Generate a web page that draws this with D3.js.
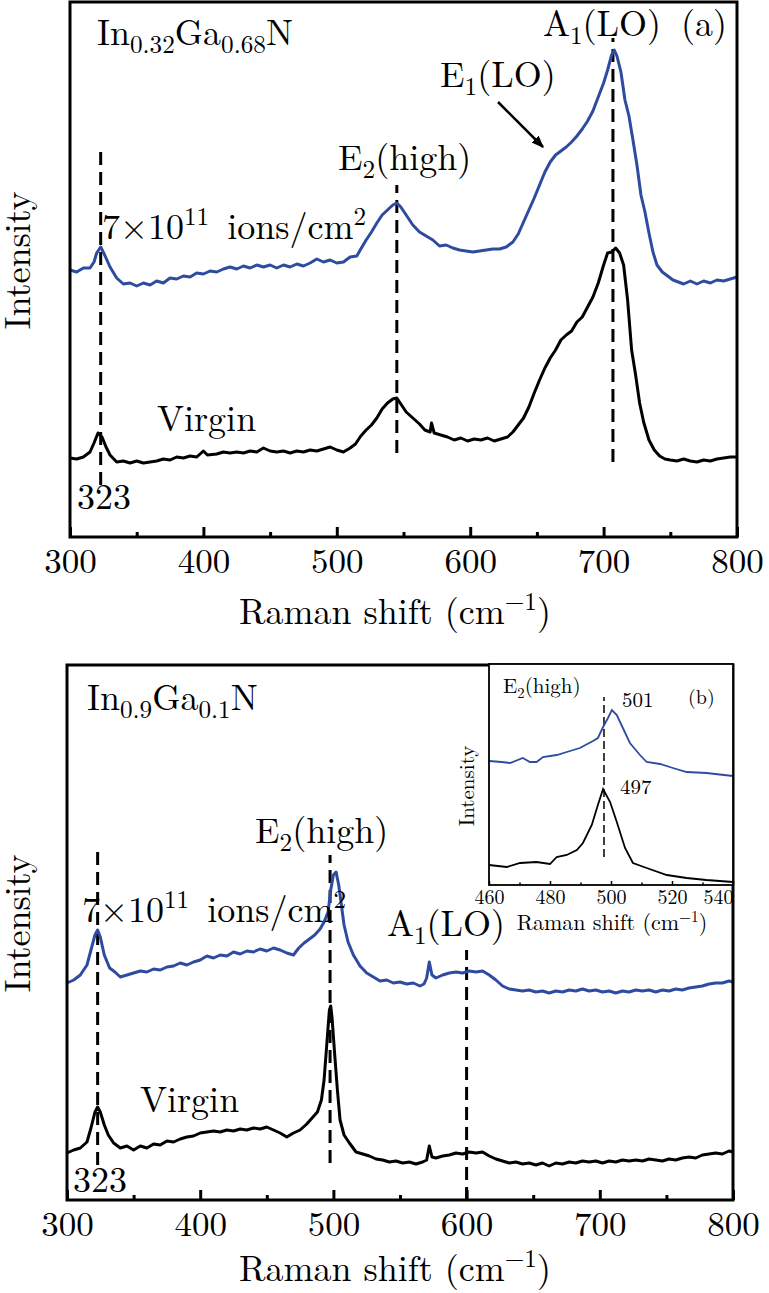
<!DOCTYPE html>
<html>
<head>
<meta charset="utf-8">
<script src="https://cdn.jsdelivr.net/npm/d3@7"></script>
<style>
  body { margin: 0; background: #fff; }
</style>
</head>
<body>
<div id="chart"></div>
<script>
// Raman spectra, [shift cm^-1, intensity a.u.]
const ionTop = [[300,267],[305,265],[310,269],[315,269],[318,275],[320,284],[323,290],[326,282],[330,270],[335,259],[340,253],[345,254],[350,251],[355,254],[360,252],[365,256],[370,254],[375,259],[380,258],[385,261],[390,260],[395,264],[400,263],[405,266],[410,265],[415,268],[420,270],[425,268],[430,271],[435,269],[440,272],[445,270],[450,272],[455,269],[460,272],[465,270],[470,273],[475,271],[480,274],[485,278],[490,275],[495,277],[500,274],[505,275],[510,280],[515,281],[518,288],[522,297],[526,305],[530,314],[534,322],[538,327],[542,332],[545,334],[548,330],[552,322],[557,312],[562,305],[567,301],[572,297],[577,291],[582,292],[587,289],[592,287],[597,286],[602,285],[607,286],[612,287],[617,288],[622,288],[627,290],[632,295],[636,303],[640,315],[644,327],[648,339],[652,352],[656,365],[660,375],[664,382],[668,386],[672,390],[676,395],[680,401],[684,408],[688,416],[692,426],[696,440],[700,454],[703,467],[706,482],[708,487],[710,481],[713,465],[716,437],[719,421],[722,397],[725,372],[728,342],[731,325],[734,304],[737,285],[740,272],[744,265],[748,261],[752,257],[756,255],[760,253],[765,256],[770,253],[775,256],[780,254],[785,257],[790,256],[795,258],[800,260]];

const virginTop = [[300,79],[305,78],[310,80],[315,85],[318,94],[321,104],[324,100],[327,90],[330,82],[335,75],[340,76],[345,74],[350,76],[355,74],[360,75],[365,76],[370,78],[375,77],[380,80],[385,79],[390,81],[395,80],[400,86],[403,82],[410,83],[415,85],[420,84],[425,85],[430,84],[435,86],[440,85],[445,89],[450,86],[455,85],[460,86],[465,84],[470,86],[475,85],[480,87],[485,86],[490,88],[495,90],[500,87],[505,85],[510,89],[514,93],[518,101],[522,107],[526,112],[530,119],[534,128],[538,134],[542,138],[545,139],[548,133],[552,125],[557,119],[562,113],[566,107],[570,105],[571,114],[573,104],[578,102],[583,100],[588,97],[593,99],[598,96],[603,98],[608,97],[613,99],[618,96],[623,98],[628,100],[632,105],[636,112],[640,119],[644,130],[648,144],[652,157],[656,169],[660,179],[664,187],[668,197],[672,202],[676,206],[680,215],[684,220],[688,230],[692,240],[696,254],[700,272],[703,284],[706,285],[709,289],[712,284],[715,272],[718,237],[721,187],[724,162],[727,134],[730,115],[734,97],[738,87],[742,81],[746,78],[750,77],[755,76],[760,78],[765,76],[770,75],[775,77],[780,76],[785,78],[790,79],[795,80],[800,80]];

const ionBottom = [[300,217],[305,220],[310,225],[315,235],[318,250],[321,265],[323,270],[325,263],[328,245],[332,232],[336,228],[340,223],[345,225],[350,227],[355,229],[360,228],[365,231],[370,230],[375,233],[380,234],[385,237],[390,235],[395,238],[400,240],[405,244],[410,242],[415,245],[420,244],[425,248],[430,246],[435,249],[440,248],[445,251],[450,249],[455,252],[460,250],[465,247],[470,245],[474,252],[478,257],[482,261],[486,265],[490,271],[493,278],[496,288],[498,310],[500,325],[502,328],[504,315],[506,295],[508,275],[511,258],[515,245],[520,234],[525,227],[530,223],[535,219],[540,220],[545,217],[550,218],[555,216],[560,217],[565,214],[568,216],[570,222],[572,238],[574,225],[577,222],[582,225],[587,227],[592,228],[597,227],[602,229],[607,228],[612,229],[617,225],[622,220],[627,214],[632,211],[637,210],[642,209],[647,210],[652,208],[657,209],[662,207],[667,209],[672,208],[677,210],[682,209],[687,211],[692,209],[697,210],[702,208],[707,209],[712,207],[717,209],[722,208],[727,210],[732,209],[737,210],[742,208],[747,210],[752,209],[757,211],[762,210],[767,212],[772,213],[777,214],[782,216],[787,217],[792,217],[797,219],[800,218]];

const virginBottom = [[300,47],[305,50],[310,52],[315,58],[318,72],[321,88],[323,93],[325,88],[328,75],[331,65],[335,57],[340,52],[345,54],[350,50],[355,54],[360,52],[365,56],[370,55],[375,59],[380,58],[385,61],[390,63],[395,64],[400,67],[405,68],[410,69],[415,68],[420,70],[425,69],[430,71],[435,70],[440,72],[445,71],[450,73],[455,70],[460,67],[465,63],[470,67],[475,70],[480,76],[484,82],[488,88],[491,100],[493,120],[495,155],[497,190],[498,194],[499,182],[501,145],[503,110],[505,80],[508,65],[512,57],[517,48],[522,46],[527,44],[532,41],[537,40],[542,38],[547,39],[552,37],[557,38],[562,36],[567,38],[570,40],[572,54],[574,43],[577,42],[582,44],[587,45],[592,47],[597,46],[602,48],[607,47],[612,48],[617,44],[622,41],[627,39],[632,37],[637,38],[642,36],[647,37],[652,35],[657,37],[662,34],[667,37],[672,36],[677,38],[682,37],[687,39],[692,38],[697,39],[702,37],[707,39],[712,38],[717,40],[722,39],[727,40],[732,39],[737,41],[742,40],[747,39],[752,41],[757,40],[762,42],[767,43],[772,42],[777,45],[782,46],[787,47],[792,46],[797,49],[800,48]];

// inset (b): E2(high) region of In0.9Ga0.1N
const ionInset = [[460,124],[464.2,123],[466.9,122],[471.1,127],[473.4,123],[475.6,123],[477.7,128],[482.2,130],[485.5,133],[489.8,137],[494.1,144],[495.7,147],[497.4,158],[499,167],[500.3,175],[501.9,170],[503.9,157],[506.2,142],[509.5,130],[511.7,123],[516.1,121],[520.3,117],[524.8,113],[531.3,112],[540,109]];
const virginInset = [[460,20],[465.8,18],[470.2,22],[475.6,23],[480,21],[482.2,28],[485.5,30],[488.8,35],[490.8,42],[493.7,60],[495.7,80],[497.4,96],[499.7,83],[501.9,63],[504.6,37],[507.2,22],[511.7,17],[518.3,10],[524.8,7],[531.3,5],[540,3]];

const xTicks = [300, 400, 500, 600, 700, 800];
const xMinor = [350, 450, 550, 650, 750];
const insetTicks = [460, 480, 500, 520, 540];
const insetMinor = [470, 490, 510, 530];

// mode guide lines: [shift, intensity from, intensity to]
const guidesTop = [[323, 52, 392], [545, 84, 352], [707, 75, 499]];
const guidesBottom = [[323, 35, 352], [497.5, 37, 345], [600, 0, 250]];
const guidesInset = [[497.7, 28, 188]];

const blue = "#2e4b9f";
const FONT = "'Latin Modern Roman', 'Liberation Serif', 'Times New Roman'";
const W = 769, H = 1293;

const svg = d3.select("#chart").append("svg")
    .attr("width", W).attr("height", H);

// text with sub/superscripts: parts = [[str, "sub"|"sup"|null], ...]
function rich(g, x, y, parts, size, opts) {
    opts = opts || {};
    const t = g.append("text")
        .attr("x", x).attr("y", y)
        .style("font-family", FONT)
        .style("font-size", size + "px")
        .style("fill", "#000")
        .attr("text-anchor", opts.anchor || "start");
    if (opts.rotate) t.attr("transform", "rotate(-90," + x + "," + y + ")");
    let shift = 0;
    parts.forEach(([s, kind]) => {
        const want = kind === "sub" ? size * 0.22 : kind === "sup" ? -size * 0.38 : 0;
        t.append("tspan")
            .attr("dy", want - shift)
            .style("font-size", kind ? (size * 0.7) + "px" : null)
            .text(s);
        shift = want;
    });
    return t;
}

function panel(p) {
    const g = svg.append("g");
    const x = d3.scaleLinear().domain([300, 800]).range([p.left, p.right]);
    const y = d3.scaleLinear().domain([0, 535]).range([p.bottom, p.top]);
    const line = d3.line().x(d => x(d[0])).y(d => y(d[1]));

    g.selectAll("line.guide").data(p.guides).enter().append("line")
        .attr("x1", d => x(d[0])).attr("x2", d => x(d[0]))
        .attr("y1", d => y(d[1])).attr("y2", d => y(d[2]))
        .attr("stroke", "#000").attr("stroke-width", 3)
        .attr("stroke-dasharray", "13,7");

    g.append("path").datum(p.virgin).attr("d", line)
        .attr("fill", "none").attr("stroke", "#000").attr("stroke-width", 3)
        .attr("stroke-linejoin", "round");
    g.append("path").datum(p.ion).attr("d", line)
        .attr("fill", "none").attr("stroke", blue).attr("stroke-width", 3)
        .attr("stroke-linejoin", "round");

    const ax = g.append("g").attr("transform", "translate(0," + p.bottom + ")")
        .call(d3.axisBottom(x).tickValues(xTicks).tickSize(-10).tickPadding(11));
    ax.select(".domain").remove();
    ax.selectAll("line").attr("stroke-width", 3);
    ax.selectAll("text").style("font-size", "35px").style("font-family", FONT);
    const mx = g.append("g").attr("transform", "translate(0," + p.bottom + ")")
        .call(d3.axisBottom(x).tickValues(xMinor).tickSize(-5).tickFormat(""));
    mx.select(".domain").remove();
    mx.selectAll("line").attr("stroke-width", 3);

    g.append("rect")
        .attr("x", p.left).attr("y", p.top)
        .attr("width", p.right - p.left).attr("height", p.bottom - p.top)
        .attr("fill", "none").attr("stroke", "#000").attr("stroke-width", 3);

    rich(g, 395, p.bottom + p.titleGap,
        [["Raman shift (cm", null], ["\u22121", "sup"], [")", null]], 36,
        {anchor: "middle"});
    rich(g, 30, (p.top + p.bottom) / 2 - 9, [["Intensity", null]], 36,
        {anchor: "middle", rotate: true});
    return {g, x, y};
}

const panelA = panel({left: 70, right: 737, top: 2, bottom: 537, titleGap: 87,
    ion: ionTop, virgin: virginTop, guides: guidesTop});
const panelB = panel({left: 67, right: 733, top: 665, bottom: 1200, titleGap: 81,
    ion: ionBottom, virgin: virginBottom, guides: guidesBottom});

const fs = 36;
// top panel labels
rich(panelA.g, 97, 45, [["In", null], ["0.32", "sub"], ["Ga", null], ["0.68", "sub"], ["N", null]], fs);
rich(panelA.g, 338, 170, [["E", null], ["2", "sub"], ["(high)", null]], fs);
rich(panelA.g, 102, 239, [["7\u00d710", null], ["11", "sup"], ["\u2002ions/cm", null], ["2", "sup"]], fs);
rich(panelA.g, 440, 87, [["E", null], ["1", "sub"], ["(LO)", null]], fs);
rich(panelA.g, 543, 36, [["A", null], ["1", "sub"], ["(LO)", null]], fs);
rich(panelA.g, 727, 36, [["(a)", null]], fs, {anchor: "end"});
rich(panelA.g, 157, 431, [["Virgin", null]], fs);
rich(panelA.g, 77, 509, [["323", null]], fs);

svg.append("defs").append("marker")
    .attr("id", "arrow").attr("viewBox", "0 0 10 10")
    .attr("refX", 9).attr("refY", 5)
    .attr("markerWidth", 5).attr("markerHeight", 5)
    .attr("orient", "auto")
    .append("path").attr("d", "M0,1 L10,5 L0,9 z").attr("fill", "#000");
panelA.g.append("line")
    .attr("x1", 498).attr("y1", 102).attr("x2", 543).attr("y2", 147)
    .attr("stroke", "#000").attr("stroke-width", 2.5)
    .attr("marker-end", "url(#arrow)");

// bottom panel labels
rich(panelB.g, 87, 710, [["In", null], ["0.9", "sub"], ["Ga", null], ["0.1", "sub"], ["N", null]], fs);
rich(panelB.g, 255, 843, [["E", null], ["2", "sub"], ["(high)", null]], fs);
rich(panelB.g, 82, 922, [["7\u00d710", null], ["11", "sup"], ["\u2002ions/cm", null], ["2", "sup"]], fs);
rich(panelB.g, 387, 936, [["A", null], ["1", "sub"], ["(LO)", null]], fs);
rich(panelB.g, 140, 1112, [["Virgin", null]], fs);
rich(panelB.g, 73, 1192, [["323", null]], fs);

// inset
const ins = {left: 489, right: 733, top: 664, bottom: 885};
const gi = svg.append("g");
gi.append("rect").attr("x", ins.left).attr("y", ins.top)
    .attr("width", ins.right - ins.left).attr("height", ins.bottom - ins.top)
    .attr("fill", "#fff");
const xi = d3.scaleLinear().domain([460, 540]).range([ins.left, ins.right]);
const yi = d3.scaleLinear().domain([0, 221]).range([ins.bottom, ins.top]);
const li = d3.line().x(d => xi(d[0])).y(d => yi(d[1]));

gi.selectAll("line.guide").data(guidesInset).enter().append("line")
    .attr("x1", d => xi(d[0])).attr("x2", d => xi(d[0]))
    .attr("y1", d => yi(d[1])).attr("y2", d => yi(d[2]))
    .attr("stroke", "#000").attr("stroke-width", 1.5)
    .attr("stroke-dasharray", "8,4");
gi.append("path").datum(virginInset).attr("d", li)
    .attr("fill", "none").attr("stroke", "#000").attr("stroke-width", 1.8);
gi.append("path").datum(ionInset).attr("d", li)
    .attr("fill", "none").attr("stroke", blue).attr("stroke-width", 1.8);

const axi = gi.append("g").attr("transform", "translate(0," + ins.bottom + ")")
    .call(d3.axisBottom(xi).tickValues(insetTicks).tickSize(-4).tickPadding(5));
axi.select(".domain").remove();
axi.selectAll("line").attr("stroke-width", 1.5);
axi.selectAll("text").style("font-size", "20px").style("font-family", FONT)
    .attr("text-anchor", d => d === 540 ? "end" : "middle");
const mxi = gi.append("g").attr("transform", "translate(0," + ins.bottom + ")")
    .call(d3.axisBottom(xi).tickValues(insetMinor).tickSize(-2.5).tickFormat(""));
mxi.select(".domain").remove();
mxi.selectAll("line").attr("stroke-width", 1.5);

gi.append("rect").attr("x", ins.left).attr("y", ins.top)
    .attr("width", ins.right - ins.left).attr("height", ins.bottom - ins.top)
    .attr("fill", "none").attr("stroke", "#000").attr("stroke-width", 1.8);

rich(gi, 612, 930, [["Raman shift (cm", null], ["\u22121", "sup"], [")", null]], 22,
    {anchor: "middle"});
rich(gi, 474, 786, [["Intensity", null]], 21, {anchor: "middle", rotate: true});
rich(gi, 503, 693, [["E", null], ["2", "sub"], ["(high)", null]], 21);
rich(gi, 622, 707, [["501", null]], 21);
rich(gi, 688, 704, [["(b)", null]], 20);
rich(gi, 620, 794, [["497", null]], 21);
</script>
</body>
</html>
